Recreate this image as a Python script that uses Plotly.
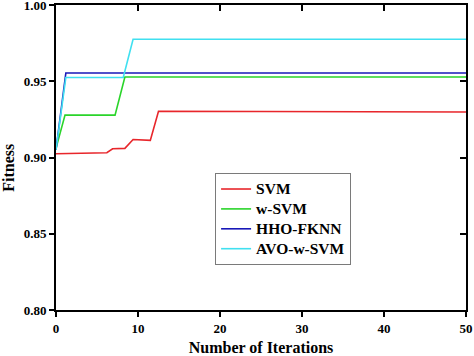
import plotly.graph_objects as go

# ---- data ----
svm_x = [0, 6.2, 6.9, 8.4, 9.4, 11.5, 12.5, 50]
svm_y = [0.9025, 0.9031, 0.9057, 0.9060, 0.9118, 0.9112, 0.9303, 0.9298]

wsvm_x = [0, 1.1, 7.2, 8.4, 50]
wsvm_y = [0.906, 0.9278, 0.9278, 0.9528, 0.9528]

hho_x = [0, 1.2, 50]
hho_y = [0.905, 0.9554, 0.9554]

avo_x = [0, 1.2, 8.2, 9.4, 50]
avo_y = [0.905, 0.9525, 0.9525, 0.9775, 0.9775]

names = ["SVM", "w-SVM", "HHO-FKNN", "AVO-w-SVM"]
colors = ["#e8262b", "#2ad42a", "#1818b8", "#40e0f0"]

x_range = [0, 50]
y_range = [0.80, 1.00]
x_ticks = [0, 10, 20, 30, 40, 50]
y_ticks = [0.80, 0.85, 0.90, 0.95, 1.00]
y_ticklabels = ["0.80", "0.85", "0.90", "0.95", "1.00"]

FONT = "Liberation Serif"

fig = go.Figure()
series = [(svm_x, svm_y), (wsvm_x, wsvm_y), (hho_x, hho_y), (avo_x, avo_y)]
for (xs, ys), n, c in zip(series, names, colors):
    fig.add_trace(go.Scatter(x=xs, y=ys, mode="lines",
                             name='<span style="font-size:15.5px">%s</span>' % n,
                             line=dict(color=c, width=1.6)))

# trace on secondary axes so that inward mirror ticks (top/right) are drawn
fig.add_trace(go.Scatter(x=hho_x, y=hho_y, xaxis="x2", yaxis="y2",
                         mode="lines", line=dict(color="rgba(0,0,0,0)", width=1),
                         showlegend=False, hoverinfo="skip"))

tickfont = dict(family=FONT, size=13, color="black", weight="bold")

fig.update_layout(
    width=474, height=356,
    margin=dict(l=56, r=8, t=5, b=46),
    paper_bgcolor="white", plot_bgcolor="white",
    showlegend=True,
    legend=dict(x=0.388, y=0.449, xanchor="left", yanchor="top",
                bgcolor="white", bordercolor="#7a7a7a", borderwidth=1,
                font=dict(family=FONT, size=13, color="black", weight="bold"),
                tracegroupgap=0),
    xaxis=dict(range=x_range, tickvals=x_ticks, ticks="outside", ticklen=5,
               tickwidth=2, tickcolor="black", showline=True, linewidth=2,
               linecolor="black", mirror=True, showgrid=False, zeroline=False,
               tickfont=tickfont, automargin=False, ticklabeloverflow="allow",
               title=dict(text="Number of Iterations", standoff=17,
                          font=dict(family=FONT, size=16, color="black", weight="bold"))),
    yaxis=dict(range=y_range, tickvals=y_ticks, ticktext=y_ticklabels,
               ticks="outside", ticklen=5, tickwidth=2, tickcolor="black",
               showline=True, linewidth=2, linecolor="black", mirror=True,
               showgrid=False, zeroline=False, tickfont=tickfont,
               automargin=False, ticklabeloverflow="allow"),
    xaxis2=dict(range=x_range, overlaying="x", side="top", anchor="y",
                tickvals=x_ticks, ticks="inside", ticklen=6, tickwidth=2,
                tickcolor="black", showticklabels=False, showline=False,
                showgrid=False, zeroline=False, automargin=False),
    yaxis2=dict(range=y_range, overlaying="y", side="right", anchor="x",
                tickvals=y_ticks, ticks="inside", ticklen=6, tickwidth=2,
                tickcolor="black", showticklabels=False, showline=False,
                showgrid=False, zeroline=False, automargin=False),
)

fig.add_annotation(text="Fitness", xref="paper", yref="paper",
                   x=-0.116, y=0.468, xanchor="center", yanchor="middle",
                   textangle=-90, showarrow=False,
                   font=dict(family=FONT, size=16, color="black", weight="bold"))

fig.write_html("out.html", config={"displayModeBar": False},
               post_script="document.body.style.margin='0';document.body.style.padding='0';document.body.style.overflow='hidden';")
